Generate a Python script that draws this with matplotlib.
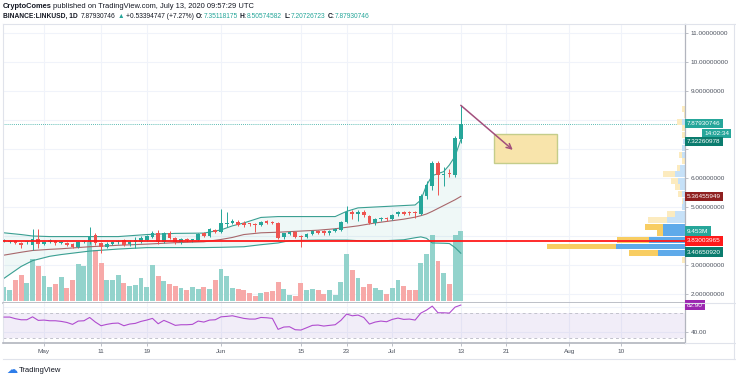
import matplotlib
matplotlib.use('Agg')
import matplotlib.pyplot as plt
from matplotlib.patches import Rectangle
from matplotlib.transforms import Affine2D, blended_transform_factory
from matplotlib.lines import Line2D

plt.rcParams['font.family'] = ['Liberation Sans', 'DejaVu Sans']

# daily candles, index 0 = 24 Apr 2020 ... 80 = 13 Jul 2020
opens = [3.82, 3.80, 3.84, 3.75, 3.78, 3.68, 3.89, 3.74, 3.78, 3.83,
         3.76, 3.77, 3.72, 3.63, 3.79, 3.80, 4.03, 3.77, 3.61, 3.72,
         3.79, 3.86, 3.72, 3.78, 3.80, 3.86, 3.98, 4.09, 3.80, 4.11,
         3.94, 3.78, 3.87, 3.85, 3.86, 4.09, 4.00, 4.21, 4.15, 4.40,
         4.44, 4.49, 4.46, 4.41, 4.41, 4.38, 4.51, 4.47, 4.44, 3.96,
         4.07, 4.13, 3.97, 3.96, 4.07, 4.18, 4.18, 4.09, 4.18, 4.21,
         4.49, 4.82, 4.77, 4.84, 4.70, 4.44, 4.59, 4.63, 4.59, 4.75,
         4.82, 4.82, 4.82, 4.75, 5.39, 5.73, 6.51, 6.12, 6.16, 6.10,
         7.351]
closes = [3.85, 3.81, 3.75, 3.68, 3.80, 3.89, 3.73, 3.80, 3.85, 3.75,
          3.78, 3.70, 3.61, 3.78, 3.81, 4.01, 3.75, 3.61, 3.73, 3.80,
          3.81, 3.69, 3.80, 3.86, 3.92, 4.00, 4.11, 3.80, 4.09, 3.94,
          3.80, 3.89, 3.85, 3.87, 4.07, 4.00, 4.23, 4.15, 4.44, 4.44,
          4.53, 4.38, 4.39, 4.40, 4.39, 4.49, 4.44, 4.45, 3.92, 4.09,
          4.14, 3.98, 3.96, 4.07, 4.18, 4.12, 4.09, 4.18, 4.23, 4.49,
          4.82, 4.75, 4.84, 4.72, 4.44, 4.59, 4.63, 4.57, 4.72, 4.82,
          4.77, 4.78, 4.80, 5.39, 5.76, 6.51, 6.10, 6.15, 6.13, 7.37,
          7.879]
highs = [3.90, 3.86, 3.87, 3.78, 3.84, 4.23, 4.23, 3.84, 3.88, 3.86,
         3.82, 3.80, 3.75, 3.82, 3.86, 4.32, 4.10, 3.80, 3.78, 3.84,
         3.85, 3.90, 3.85, 3.98, 4.00, 4.05, 4.16, 4.20, 4.14, 4.16,
         3.98, 3.93, 3.92, 3.90, 4.12, 4.14, 4.27, 4.25, 4.92, 4.84,
         4.60, 4.55, 4.52, 4.45, 4.44, 4.52, 4.55, 4.50, 4.47, 4.12,
         4.17, 4.16, 4.03, 4.10, 4.22, 4.22, 4.22, 4.21, 4.27, 4.53,
         5.05, 4.88, 4.90, 4.88, 4.74, 4.63, 4.67, 4.66, 4.76, 4.86,
         4.86, 4.86, 4.85, 5.45, 5.88, 6.60, 6.57, 6.37, 6.30, 7.45,
         8.506]
lows = [3.79, 3.76, 3.72, 3.59, 3.74, 3.52, 3.60, 3.70, 3.75, 3.70,
        3.72, 3.66, 3.57, 3.60, 3.75, 3.74, 3.70, 3.40, 3.57, 3.68,
        3.74, 3.64, 3.66, 3.60, 3.75, 3.82, 3.94, 3.74, 3.76, 3.90,
        3.74, 3.74, 3.78, 3.81, 3.82, 3.96, 3.97, 4.10, 4.12, 4.30,
        4.40, 4.33, 4.30, 4.33, 4.15, 4.35, 4.40, 4.40, 3.88, 3.90,
        4.02, 3.94, 3.63, 3.92, 4.03, 4.08, 4.05, 4.05, 4.14, 4.18,
        4.45, 4.60, 4.52, 4.66, 4.40, 4.38, 4.52, 4.52, 4.55, 4.70,
        4.73, 4.74, 4.61, 4.72, 5.28, 5.57, 5.40, 5.71, 6.02, 6.05,
        7.207]
# volume, millions
volumes = [1.93, 1.53, 2.88, 3.47, 2.47, 5.71, 4.77, 3.42, 1.85, 2.26,
           3.28, 1.76, 2.80, 4.96, 4.69, 7.97, 6.85, 5.17, 2.80, 2.88,
           3.55, 2.43, 1.99, 2.16, 3.07, 1.89, 4.82, 3.34, 2.66, 2.34,
           1.99, 1.80, 1.53, 1.89, 1.62, 1.89, 1.66, 2.80, 4.28, 3.38,
           1.80, 1.62, 1.44, 1.08, 0.63, 1.08, 1.22, 1.35, 2.57, 1.66,
           0.85, 0.72, 2.43, 1.44, 1.66, 1.44, 0.99, 1.53, 0.77, 2.57,
           6.31, 4.15, 3.15, 1.85, 2.30, 1.72, 1.49, 0.95, 1.80, 2.84,
           2.03, 1.49, 1.49, 5.09, 6.31, 8.91, 5.44, 3.82, 2.30, 8.91,
           9.453]
rsi = [63.6, 63.6, 61.0, 59.3, 59.3, 64.0, 58.3, 58.8, 57.7, 57.7,
       56.7, 55.0, 51.9, 57.2, 57.7, 63.0, 55.6, 49.7, 51.9, 53.5,
       54.0, 49.7, 52.4, 53.5, 56.7, 58.8, 61.5, 52.9, 58.3, 54.5,
       50.3, 51.3, 51.3, 51.9, 57.2, 55.6, 58.8, 59.3, 64.0, 64.7,
       65.7, 63.6, 61.5, 60.4, 60.4, 63.0, 62.5, 61.5, 43.9, 47.6,
       48.1, 43.3, 42.8, 46.5, 50.3, 50.8, 49.2, 50.3, 51.3, 58.3,
       68.4, 65.7, 66.8, 63.0, 52.4, 55.6, 57.2, 56.1, 59.9, 62.0,
       59.9, 60.4, 58.8, 70.0, 74.8, 81.2, 70.5, 70.5, 70.0, 79.6,
       82.9]

# Bollinger bands at these candles
bb_idx = [0, 3, 5, 8, 10, 15, 20, 25, 30, 35, 38, 40, 42, 45, 48, 50, 55, 58,
          60, 62, 65, 70, 72, 73, 74, 75, 77, 78, 79, 80]
bb_upper = [4.11, 4.05, 4.00, 3.98, 3.98, 3.98, 3.98, 4.05, 4.09, 4.10, 4.21,
            4.35, 4.45, 4.64, 4.67, 4.67, 4.67, 4.67, 4.85, 4.97, 5.00, 5.05,
            5.07, 5.24, 5.75, 6.08, 6.22, 6.45, 6.75, 7.32]
bb_mid = [3.34, 3.44, 3.50, 3.54, 3.56, 3.63, 3.68, 3.72, 3.77, 3.80, 3.88,
          3.95, 4.05, 4.11, 4.13, 4.15, 4.20, 4.25, 4.30, 4.35, 4.45, 4.58,
          4.65, 4.70, 4.76, 4.85, 5.05, 5.15, 5.25, 5.3646]
bb_lower = [2.54, 2.95, 3.15, 3.30, 3.36, 3.48, 3.55, 3.60, 3.60, 3.60, 3.61,
            3.62, 3.63, 3.70, 3.76, 3.84, 3.86, 3.86, 3.86, 3.84, 3.82, 3.87,
            3.94, 3.97, 3.92, 3.76, 3.75, 3.74, 3.60, 3.4065]

# visible range volume profile: 24 rows between low and high
vp_low, vp_high = 3.07, 8.506
vp_up = [0, 27, 69, 36, 22, 22, 18, 10, 3, 2, 3, 5, 7, 10, 5, 0, 3, 3, 2, 0, 0, 3, 0, 0]
vp_down = [3, 29, 69, 32, 6, 18, 19, 8, 0, 1, 4, 5, 7, 12, 3, 3, 3, 0, 0, 3, 3, 5, 1, 3]
vp_value_area = [1, 2, 3, 4, 5]

hline_price = 3.83003965
time_ticks = [7, 17, 25, 38, 52, 60, 68, 80, 88, 99, 108]
time_labels = ['May', '11', '19', 'Jun', '15', '23', 'Jul', '13', '21', 'Aug', '10']
price_ticks = [2, 3, 4, 5, 6, 7, 8, 9, 10, 11]
hidden_ticks = [4, 7, 8]          # covered by the value labels on the scale

GREEN, RED = '#26a69a', '#ef5350'
VGREEN, VRED = '#93d3cc', '#f7a9a8'
GRID = '#f0f3fa'
TXT = '#4c525e'
FS = 4.6

W, H = 736, 379
fig = plt.figure(figsize=(W / 100, H / 100), dpi=100)


def box(x0, y0, x1, y1):
    return [x0 / W, 1 - y1 / H, (x1 - x0) / W, (y1 - y0) / H]


L, R = 3, 685
ax = fig.add_axes(box(L, 24, R, 303))
ax_rsi = fig.add_axes(box(L, 303, R, 343), sharex=ax)

px_per_day = 5.71
x0 = (L - 4) / px_per_day
x1 = (R - 4) / px_per_day
ax.set_xlim(x0, x1)
ax.set_ylim(2 - 9 / 29, 2 + 270 / 29)
ax_rsi.set_ylim(22, 86.2)

n = len(closes)
xs = list(range(n))

# volume on its own scale at the bottom of the price pane
vol_y = Affine2D().scale(1, 7.405 / 279).translate(0, 2 / 279) + ax.transAxes
vol_tr = blended_transform_factory(ax.transData, vol_y)
vcols = [VGREEN if c >= o else VRED for o, c in zip(opens, closes)]
ax.bar(xs, volumes, width=0.86, color=vcols, transform=vol_tr, zorder=1)

# bollinger bands
ax.fill_between(bb_idx, bb_lower, bb_upper, color='#26a69a', alpha=0.07, lw=0, zorder=1.5)
ax.plot(bb_idx, bb_upper, color='#3a9f92', lw=0.8, zorder=2)
ax.plot(bb_idx, bb_lower, color='#3a9f92', lw=0.8, zorder=2)
ax.plot(bb_idx, bb_mid, color='#a8676b', lw=0.8, zorder=2)

# candles
ccols = [GREEN if c >= o else RED for o, c in zip(opens, closes)]
ax.vlines(xs, lows, highs, colors=ccols, lw=0.7, zorder=3)
bottoms = [min(o, c) for o, c in zip(opens, closes)]
heights = [max(abs(c - o), 0.035) for o, c in zip(opens, closes)]
ax.bar(xs, heights, bottom=bottoms, width=0.64, color=ccols, lw=0, zorder=3.5)

# horizontal line and last price line
ax.axhline(hline_price, color='#ff1a1a', lw=1.3, zorder=4)
ax.axhline(closes[-1], color=GREEN, lw=0.6, ls=(0, (1, 1.5)), zorder=2)

# volume profile anchored to the right edge
row = (vp_high - vp_low) / 24
for k in range(24):
    va = k in vp_value_area
    cu = '#5eaaea' if va else '#c6e1f8'
    cd = '#f8cd62' if va else '#fcebbf'
    yb = vp_low + k * row + 0.012
    up_w = vp_up[k] / px_per_day
    dn_w = vp_down[k] / px_per_day
    if up_w:
        ax.barh(yb, up_w, height=row - 0.024, left=x1 - up_w, align='edge',
                color=cu, lw=0, zorder=2.5)
    if dn_w:
        ax.barh(yb, dn_w, height=row - 0.024, left=x1 - up_w - dn_w, align='edge',
                color=cd, lw=0, zorder=2.5)

# drawing: target box and arrow
ax.add_patch(Rectangle((85.8, 6.52), 11.0, 1.0, fc='#f8e4ab', ec='#c4cd8a', lw=1, zorder=4))
ax.annotate('', xy=(89.1, 6.97), xytext=(80, highs[-1]),
            arrowprops=dict(arrowstyle='->', color='#a24f7c', lw=1.1, mutation_scale=9,
                            shrinkA=0, shrinkB=0), zorder=5)

# RSI pane
ax_rsi.fill_between([x0, x1], 30, 70, color='#7e57c2', alpha=0.1, lw=0)
ax_rsi.axhline(70, color='#c2c2cc', lw=0.7, ls=(0, (3, 3)))
ax_rsi.axhline(30, color='#c2c2cc', lw=0.7, ls=(0, (3, 3)))
ax_rsi.plot(xs, rsi, color='#b04ccf', lw=0.8, zorder=3)

# grids, ticks, spines
for a in (ax, ax_rsi):
    a.set_facecolor('white')
    a.grid(True, color=GRID, lw=0.8, zorder=0)
    a.set_axisbelow(True)
    a.yaxis.tick_right()
    a.tick_params(axis='y', length=2.5, width=0.6, color='#b2b5be', labelsize=FS,
                  labelcolor=TXT, pad=1.5)
    for s in ('left', 'top'):
        a.spines[s].set_color('#e0e3eb')
        a.spines[s].set_linewidth(0.8)
    a.spines['right'].set_color('#b2b5be')
    a.spines['right'].set_linewidth(0.9)
    a.spines['bottom'].set_color('#b2b5be')
    a.spines['bottom'].set_linewidth(1.2)
ax_rsi.spines['top'].set_visible(False)

ax.set_yticks(price_ticks)
ax.set_yticklabels(['' if p in hidden_ticks else '%.8f' % p for p in price_ticks])
ax_rsi.set_yticks([40, 80])
ax_rsi.set_yticklabels(['40.00', ''])
ax_rsi.set_xticks(time_ticks)
ax_rsi.set_xticklabels(time_labels)
ax_rsi.tick_params(axis='x', length=2.5, width=0.6, color='#b2b5be', labelsize=FS,
                   labelcolor=TXT, pad=1.5)
ax.tick_params(axis='x', length=0, labelbottom=False)

# price scale labels
ytr = ax.get_yaxis_transform()
xl = (R + 2 - L) / (R - L)


def plabel(a, y, s, fc, tr, dy=0, x=xl):
    a.annotate(s, xy=(x, y), xycoords=tr, xytext=(0, dy), textcoords='offset pixels',
               fontsize=FS, color='white', va='center', ha='left', zorder=10,
               annotation_clip=False,
               bbox=dict(boxstyle='square,pad=0.35', fc=fc, ec='none'))


plabel(ax, closes[-1], '7.87930746', GREEN, ytr)
plabel(ax, closes[-1], '14:02:34', GREEN, ytr, dy=-10, x=(704 - L) / (R - L))
plabel(ax, bb_upper[-1], '7.32260978', '#0b7c6e', ytr, dy=-2)
plabel(ax, bb_mid[-1], '5.36455949', '#8f2020', ytr)
plabel(ax, volumes[-1], '9.453M', GREEN, blended_transform_factory(ax.transAxes, vol_y))
plabel(ax, hline_price, '3.83003965', '#ff1a1a', ytr)
plabel(ax, bb_lower[-1], '3.40650920', '#0b7c6e', ytr, dy=1)
plabel(ax_rsi, rsi[-1], '82.90', '#9c27b0', ax_rsi.get_yaxis_transform())

# outer frame
for seg in [((3, 736), (359, 359)), ((734, 734), (24, 359)), ((685, 736), (343, 343)),
            ((685, 736), (303, 303)), ((685, 736), (24, 24))]:
    fig.add_artist(Line2D([p / W for p in seg[0]], [1 - p / H for p in seg[1]],
                          color='#e0e3eb', lw=0.8))

# header
renderer = fig.canvas.get_renderer()


def run_text(parts, x, y, size):
    for s, color, weight, gap in parts:
        t = fig.text(x / W, 1 - y / H, s, fontsize=size, color=color,
                     fontweight=weight, va='center', ha='left')
        x += t.get_window_extent(renderer=renderer).width + gap


DARK = '#131722'
run_text([('CryptoComes', DARK, 'bold', 1.5),
          ('published on TradingView.com, July 13, 2020 09:57:29 UTC', DARK, 'normal', 0)],
         3, 6.5, 5.4)
run_text([('BINANCE:LINKUSD, 1D', DARK, 'bold', 3),
          ('7.87930746', DARK, 'normal', 2),
          ('\u25b2', GREEN, 'normal', 1.5),
          ('+0.53394747 (+7.27%)', DARK, 'normal', 2.5),
          ('O:', DARK, 'bold', 0), ('7.35118175', GREEN, 'normal', 2.5),
          ('H:', DARK, 'bold', 0), ('8.50574582', GREEN, 'normal', 2.5),
          ('L:', DARK, 'bold', 0), ('7.20726723', GREEN, 'normal', 2.5),
          ('C:', DARK, 'bold', 0), ('7.87930746', GREEN, 'normal', 0)],
         3, 16, 4.8)

# footer logo
fig.text(6 / W, 1 - 370 / H, '\u2601', fontsize=8, color='#2e7de9', va='center', ha='left',
         family=['DejaVu Sans'])
fig.text(19 / W, 1 - 370 / H, 'TradingView', fontsize=5.5, color=DARK, va='center', ha='left')

fig.savefig('out.png', dpi=100)
